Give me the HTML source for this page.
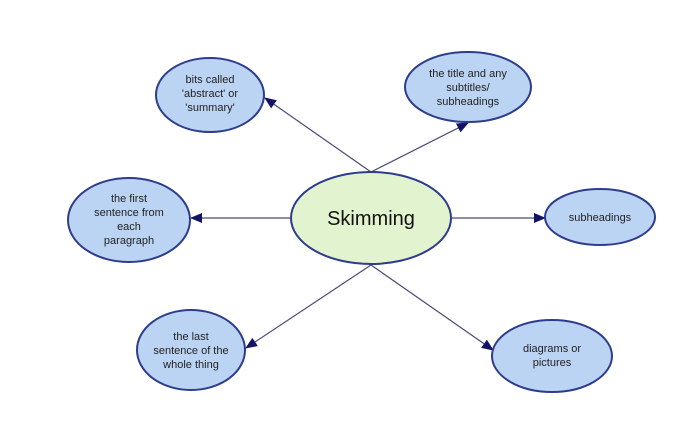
<!DOCTYPE html>
<html><head><style>body{margin:0;background:#fff}svg{display:block}</style></head><body>
<svg width="700" height="432" viewBox="0 0 700 432" xmlns="http://www.w3.org/2000/svg" font-family="Liberation Sans, sans-serif">
<defs>
<marker id="a" markerWidth="12" markerHeight="10" refX="11" refY="5" orient="auto" markerUnits="userSpaceOnUse">
<path d="M0,0 L12,5 L0,10 z" fill="#141466"/></marker>
</defs>
<g stroke="#4a4a7a" stroke-width="1.2" fill="none" marker-end="url(#a)">
<line x1="371" y1="172" x2="265" y2="98"/>
<line x1="371" y1="172" x2="468" y2="123"/>
<line x1="292" y1="218" x2="191" y2="218"/>
<line x1="452" y1="218" x2="545" y2="218"/>
<line x1="371" y1="265" x2="246" y2="348"/>
<line x1="371" y1="265" x2="493" y2="350"/>
</g>
<g stroke="#2e3c8c" stroke-width="2" fill="#bcd4f4">
<ellipse cx="210" cy="95" rx="54" ry="37"/>
<ellipse cx="468" cy="87" rx="63" ry="35"/>
<ellipse cx="129" cy="220" rx="61" ry="42"/>
<ellipse cx="600" cy="217" rx="55" ry="28"/>
<ellipse cx="191" cy="350" rx="54" ry="40"/>
<ellipse cx="552" cy="356" rx="60" ry="36"/>
<ellipse cx="371" cy="218" rx="80" ry="46" fill="#e2f3cf"/>
</g>
<g font-size="11" fill="#222" text-anchor="middle">
<text x="210" y="83">bits called</text><text x="210" y="97">'abstract' or</text><text x="210" y="111">'summary'</text>
<text x="468" y="77">the title and any</text><text x="468" y="91">subtitles/</text><text x="468" y="105">subheadings</text>
<text x="129" y="202">the first</text><text x="129" y="216">sentence from</text><text x="129" y="230">each</text><text x="129" y="244">paragraph</text>
<text x="600" y="221">subheadings</text>
<text x="191" y="340">the last</text><text x="191" y="354">sentence of the</text><text x="191" y="368">whole thing</text>
<text x="552" y="352">diagrams or</text><text x="552" y="366">pictures</text>
</g>
<text x="371" y="225" font-size="20" fill="#111" text-anchor="middle">Skimming</text>
</svg>
</body></html>
